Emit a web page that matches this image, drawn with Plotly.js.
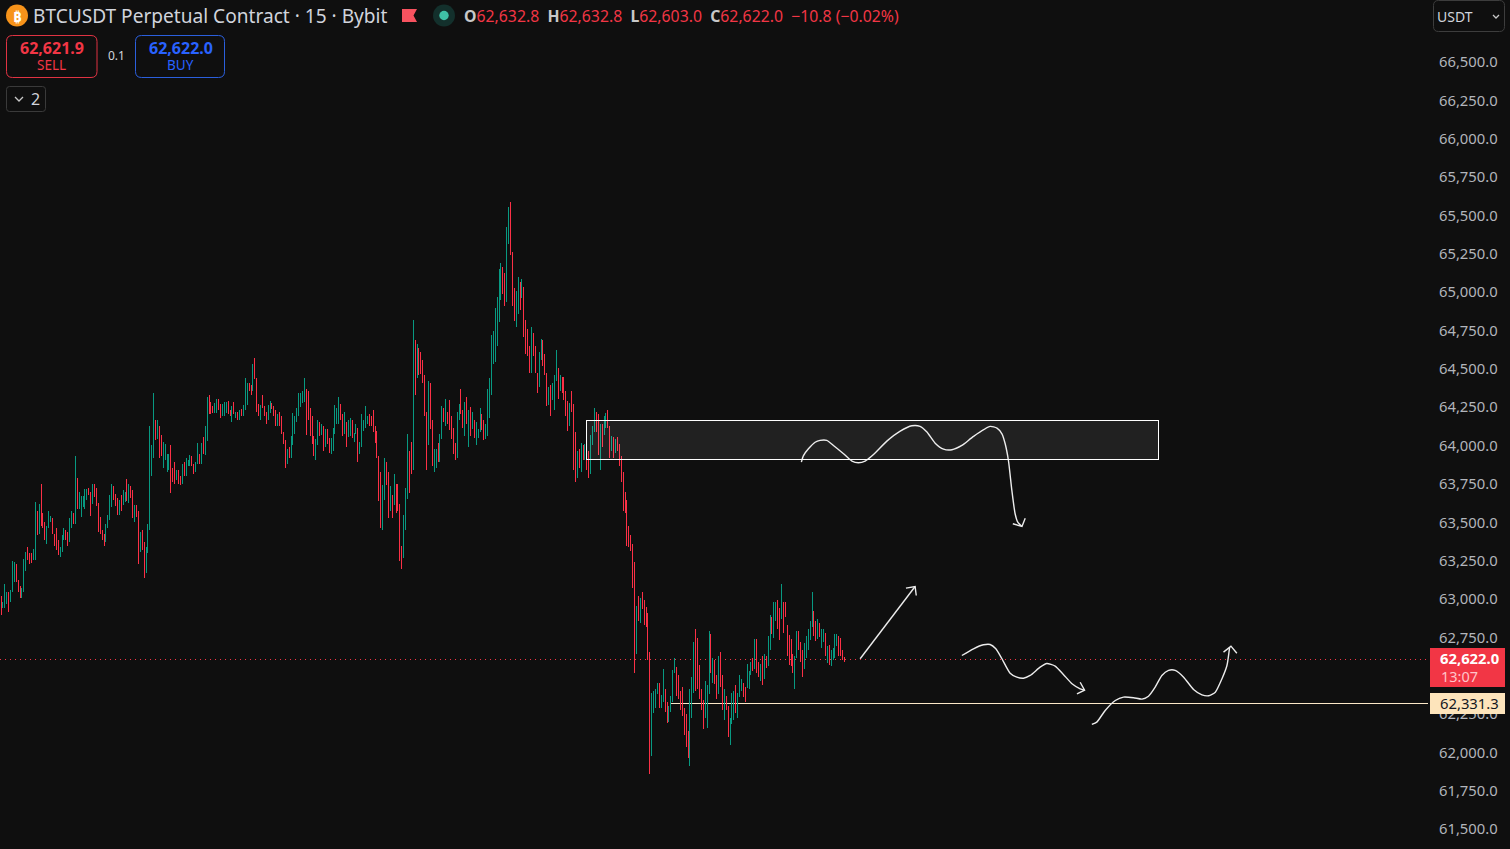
<!DOCTYPE html>
<html><head><meta charset="utf-8">
<script src="https://cdn.plot.ly/plotly-3.0.1.min.js"></script>
<style>html,body{margin:0;padding:0;background:#0f0f0f;overflow:hidden}#c{width:1510px;height:849px}
.boxlayer path{shape-rendering:crispEdges !important}
.shapelayer path[data-index="0"],.shapelayer path[data-index="1"],.shapelayer path[data-index="2"],.shapelayer path[data-index="13"],.shapelayer path[data-index="14"]{shape-rendering:crispEdges !important}
</style>
</head><body><div id="c"></div>
<script>
const highs=[
63036,62997,63108,63056,63056,63069,63258,63252,63239,63134,
63101,63082,63271,63317,63349,63310,63310,63336,63643,63584,
63630,63766,63577,63512,63492,63590,63557,63544,63440,63479,
63395,63349,63428,63479,63460,63447,63538,63584,63577,63948,
63805,63708,63682,63682,63728,63728,63734,63708,63760,63766,
63734,63636,63551,63460,63440,63505,63564,63688,63760,63747,
63695,63669,63656,63688,63721,63708,63793,63760,63747,63721,
63623,63623,63590,63447,63460,63388,63349,63499,64144,64014,
64359,64183,64177,64138,64079,64034,64021,63961,63961,64014,
63864,63903,63857,63857,63812,63896,63909,63935,63922,63955,
63948,63890,63909,64027,63961,64027,64066,64138,64327,64340,
64294,64268,64288,64314,64314,64281,64281,64294,64294,64301,
64242,64268,64294,64229,64229,64242,64249,64275,64451,64424,
64418,64405,64542,64587,64451,64281,64275,64340,64268,64235,
64275,64301,64288,64268,64242,64216,64229,64203,64099,64047,
63994,64001,64073,64223,64203,64255,64353,64353,64372,64451,
64379,64372,64255,64203,64073,64053,64183,64164,64157,64138,
64118,64118,64060,64060,64125,64275,64255,64327,64281,64216,
64229,64164,64183,64196,64177,64092,64157,64125,64034,64216,
64183,64268,64209,64216,64203,64242,64144,64105,63948,63844,
63754,63935,63903,63838,63747,63688,63831,63766,63766,63630,
63356,63564,63734,64086,63975,64034,64829,64698,64672,64652,
64620,64568,64470,64229,64437,64418,64183,63988,63994,64027,
64086,64268,64255,64314,64235,64307,64209,64125,64027,64229,
64281,64385,64242,64294,64327,64242,64262,64235,64177,64164,
64118,64255,64216,64183,64151,64379,64451,64737,64757,64913,
64979,65161,65200,65180,65135,65435,65571,65598,65278,65037,
65018,65109,65076,65096,65044,64829,64770,64659,64783,64744,
64665,64489,64626,64705,64698,64607,64489,64392,64405,64424,
64470,64633,64516,64470,64457,64457,64372,64301,64288,64372,
64281,64099,63975,63994,64027,64014,64021,64001,63975,64079,
64138,64255,64235,64216,64151,64157,64203,64223,64242,64138,
64073,64066,64053,64066,64021,63948,63838,63708,63656,63492,
63428,63375,63252,62965,63030,63023,63062,63010,62958,62919,
62671,62398,62417,62430,62469,62469,62385,62554,62430,62345,
62319,62378,62548,62626,62567,62521,62417,62443,62306,62261,
62150,62430,62508,62730,62821,62756,62580,62424,62352,62476,
62456,62802,62782,62632,62613,62521,62639,62665,62521,62424,
62378,62319,62241,62398,62417,62450,62404,62515,62489,62463,
62443,62587,62541,62606,62632,62750,62750,62600,62587,62639,
62658,62645,62769,62906,62893,62997,62991,63004,62952,63114,
62997,62991,62847,62776,62750,62658,62639,62802,62802,62730,
62678,62724,62769,62821,62867,63062,62932,62873,62886,62854,
62821,62821,62789,62704,62711,62678,62691,62782,62782,62769,
62756,62678,62632.8];
const lows=[
62906,62952,62952,62984,62926,62997,63062,63121,63121,63056,
63017,63023,63062,63199,63265,63239,63245,63265,63265,63428,
63434,63492,63479,63395,63369,63479,63512,63434,63356,63330,
63297,63284,63317,63395,63401,63362,63388,63479,63505,63505,
63597,63603,63551,63610,63603,63656,63688,63557,63630,63675,
63617,63447,63434,63395,63362,63388,63479,63525,63610,63656,
63617,63564,63564,63584,63623,63643,63649,63636,63669,63538,
63512,63551,63239,63317,63330,63153,63180,63310,63466,63812,
63935,64047,64053,63935,63948,63870,63922,63838,63857,63701,
63773,63760,63786,63760,63754,63760,63818,63812,63883,63883,
63877,63825,63844,63890,63890,63890,63961,63955,64040,64216,
64216,64223,64223,64223,64242,64196,64203,64203,64223,64216,
64203,64170,64216,64196,64183,64183,64203,64203,64242,64275,
64372,64346,64372,64444,64235,64203,64177,64255,64203,64157,
64183,64223,64249,64209,64138,64138,64144,64086,64021,63870,
63896,63929,63929,64014,64086,64170,64209,64262,64288,64294,
64079,64183,64073,64021,63948,63916,64014,64073,64079,63975,
64001,64021,63968,63961,63975,64086,64157,64157,64183,64073,
64086,64001,64066,64073,64060,64034,64086,63909,63961,64001,
64105,64125,64157,64144,64144,64099,64027,63929,63649,63473,
63466,63656,63754,63538,63590,63538,63623,63577,63590,63258,
63212,63278,63466,63662,63701,63825,63857,64340,64451,64470,
64477,64424,64209,63857,64014,64118,63883,63838,63864,63909,
63909,64053,64170,64144,64151,64112,64053,63961,63916,63929,
64177,64216,64131,64073,64157,64007,64073,64118,64060,64014,
64060,64099,64112,64047,64053,64073,64196,64340,64542,64561,
64665,64816,64965,65004,64920,64952,65330,65252,64920,64822,
64789,64868,64894,64978,64718,64613,64600,64483,64483,64594,
64483,64353,64392,64574,64535,64470,64268,64275,64203,64307,
64242,64437,64314,64372,64359,64307,64209,64105,64138,64229,
63851,63773,63799,63864,63844,63922,63916,63857,63799,63825,
64014,64099,64099,63955,63857,64001,64079,64125,64131,63935,
63981,63935,63968,63975,63877,63779,63584,63577,63362,63349,
63323,63088,62528,62658,62873,62854,62945,62841,62834,62613,
61876,61987,62268,62306,62391,62300,62306,62339,62274,62203,
62209,62274,62339,62528,62378,62359,62287,62254,62124,62046,
61980,61922,62241,62398,62417,62424,62359,62287,62163,62241,
62170,62391,62534,62469,62462,62359,62391,62443,62287,62228,
62287,62111,62065,62196,62228,62268,62241,62372,62417,62372,
62339,62436,62430,62515,62541,62554,62528,62502,62482,62456,
62489,62561,62574,62684,62782,62756,62867,62821,62743,62880,
62789,62899,62639,62580,62574,62528,62424,62632,62678,62600,
62502,62554,62626,62678,62743,62828,62769,62737,62750,62763,
62691,62730,62639,62594,62580,62574,62613,62632,62704,62645,
62645,62613,62603];
// one letter per candle: G closed up, R closed down
const direction=(
"RGGGRGGGRR"+"RGGGRRRGGR"+"GRRRGGGRRR"+"RGGGRRGGRG"+"RGGGGGRRGR"+
"RRRRRGGGGR"+"RRGRGGRGRR"+"GRRGRRGGGG"+"GRGRRGGGGR"+"RRGRRGRGGG"+
"RRGGRGRGGR"+"RRGGRRGGGR"+"RGRGRGRGGG"+"RRGRRRGRRR"+"GGRRRGRRRR"+
"GRGGGGGGGG"+"RRRRRGGRGR"+"GRRGGGGGRR"+"GRGGRGGRGG"+"GGGRRRRRRR"+
"GGRRGRGRRR"+"RGGGRRGRGR"+"RRRRGRRGGR"+"GGRGRRRRRG"+"GRRGRGRGRG"+
"GGRRGGGGGG"+"GGGRRGGRRR"+"GGRGRRRRGR"+"RRGGRRRGRG"+"GGRGRRRRGR"+
"RRGRGRGRRG"+"GGRRGRGGRR"+"GRGRRRRRRR"+"RRRGRGRRRR"+"RGGGGRGGRR"+
"GGGGRRRRRR"+"RGGGRRRRRG"+"GGRGRRGRRG"+"RRGGGRGGGR"+"RGGGRGRRGR"+
"GRGGRGGRRG"+"RRRRRRGGRR"+"RGGGGGRRGR"+"GGRGRGGGGR"+"RRR").split("");

const priceTicks=[66500,66250,66000,65750,65500,65250,65000,64750,64500,64250,64000,63750,63500,63250,63000,62750,62500,62250,62000,61750,61500];
const lastPrice=62622.0, levelPrice=62331.3;
const zoneBars=[306.6,606.4], zonePrices=[63922,64176];
const levelBars=[350.6,748.0];

// freehand drawings, x in bar numbers, y in prices
const curveABars=[419.4,420.5,423.1,426.6,429.2,432.7,436.2,441.5,445.9,449.3,452.8,457.2,464.2,471.2,477.3,481.6,485.2,489.5,493.9,498.3,503.5,509.6,518.3,521.9,524.5,526.2,527.9,529.7,531.4,532.8,535];
const curveAPrices=[63905,63948,63992,64035,64047,64047,64014,63960,63912,63901,63912,63955,64042,64107,64142,64138,64101,64029,63990,63986,64014,64073,64138,64127,64090,64025,63916,63721,63569,63514,63486];
const headABars=[530.2,535,536.7], headAPrices=[63504,63486,63540];
const arrowBBars=[450.2,479.0], arrowBPrices=[62624,63095];
const headBBars=[474.2,479.0,479.6], headBPrices=[63084,63095,63036];
const curveCBars=[503.5,509.6,514.8,518.3,521.3,524.5,528.8,532.3,535.8,539.3,544.5,548,552.4,556.8,561.2,565.5,567.8];
const curveCPrices=[62645,62689,62715,62717,62689,62624,62530,62504,62497,62515,62569,62593,62576,62520,62461,62428,62419];
const headCBars=[565.5,567.8,563.8], headCPrices=[62471,62419,62395];
const curveDBars=[571.6,574.2,578.6,583.9,588.2,593.5,597.9,601.3,604.8,608.3,611.8,615.3,619.7,624.9,629.3,632.8,636.3,639.8,642.4,643.8];
const curveDPrices=[62196,62211,62287,62352,62374,62370,62361,62380,62439,62515,62548,62548,62504,62424,62389,62383,62406,62494,62580,62700];
const headDBars=[640.6,644.5,647.6], headDPrices=[62667,62706,62660];

const W=1428,H=849;
const px=x=>x/W, py=y=>1-y/H;
const fmt=v=>v.toLocaleString('en-US',{minimumFractionDigits:1,maximumFractionDigits:1});
const bars=highs.map((_,i)=>i);
const opens=direction.map((d,i)=>d==='G'?lows[i]:highs[i]);
const closes=direction.map((d,i)=>d==='G'?highs[i]:lows[i]);
const UP='#089981',DOWN='#fb3046',BG='#0f0f0f',TXT='#b2b5bb';

const pen=(x,y)=>({type:'scatter',mode:'lines',x,y,hoverinfo:'skip',showlegend:false,
  line:{color:'#ececec',width:1.4,shape:'spline',smoothing:0.6}});
const straight=(x,y)=>({type:'scatter',mode:'lines',x,y,hoverinfo:'skip',showlegend:false,line:{color:'#ececec',width:1.4}});

const traces=[
 {type:'candlestick',x:bars,open:opens,high:highs,low:lows,close:closes,hoverinfo:'skip',showlegend:false,
  whiskerwidth:0,
  increasing:{line:{color:UP,width:1},fillcolor:UP},
  decreasing:{line:{color:DOWN,width:1},fillcolor:DOWN}},
 pen(curveABars,curveAPrices),straight(headABars,headAPrices),
 straight(arrowBBars,arrowBPrices),straight(headBBars,headBPrices),
 pen(curveCBars,curveCPrices),straight(headCBars,headCPrices),
 pen(curveDBars,curveDPrices),straight(headDBars,headDPrices)
];

function rrect(x0,y0,x1,y1,r,line,fill){
  const X=px,Y=py;
  const path=`M ${X(x0+r)} ${Y(y0)} L ${X(x1-r)} ${Y(y0)} Q ${X(x1)} ${Y(y0)} ${X(x1)} ${Y(y0+r)} L ${X(x1)} ${Y(y1-r)} Q ${X(x1)} ${Y(y1)} ${X(x1-r)} ${Y(y1)} L ${X(x0+r)} ${Y(y1)} Q ${X(x0)} ${Y(y1)} ${X(x0)} ${Y(y1-r)} L ${X(x0)} ${Y(y0+r)} Q ${X(x0)} ${Y(y0)} ${X(x0+r)} ${Y(y0)} Z`;
  return {type:'path',xref:'paper',yref:'paper',path,line:{color:line,width:1},fillcolor:fill||'rgba(0,0,0,0)'};
}
const circ=(cx,cy,r,c)=>({type:'circle',xref:'paper',yref:'paper',x0:px(cx-r),x1:px(cx+r),y0:py(cy+r),y1:py(cy-r),fillcolor:c,line:{width:0}});
const poly=(pts,c,fill)=>({type:'path',xref:'paper',yref:'paper',
  path:'M '+pts.map(p=>px(p[0])+' '+py(p[1])).join(' L ')+(fill?' Z':''),
  fillcolor:fill?c:'rgba(0,0,0,0)',line:{color:c,width:fill?0:1.3}});

const shapes=[
 {type:'line',xref:'paper',x0:0,x1:1,yref:'y',y0:lastPrice,y1:lastPrice,line:{color:'#f23645',width:1,dash:'1px,4px'}},
 {type:'rect',xref:'x',yref:'y',x0:zoneBars[0],x1:zoneBars[1],y0:zonePrices[0],y1:zonePrices[1],line:{color:'#ffffff',width:1},fillcolor:'rgba(255,255,255,0.08)'},
 {type:'line',layer:'below',xref:'x',yref:'y',x0:levelBars[0],x1:levelBars[1],y0:levelPrice,y1:levelPrice,line:{color:'#fce8c8',width:1}},
 circ(17,15.5,11,'#f7931a'),
 poly([[402,9],[417,9],[413.5,15.5],[417,22],[402,22]],'#f7525f',true),
 circ(444,15.5,11,'#13302c'),circ(444,15.5,4.7,'#3fc1a7'),
 rrect(6.5,35.5,97,77.5,6,'#e03343'),
 rrect(135.5,35.5,224.5,77.5,6,'#2b5fdc'),
 rrect(6.5,86.5,45.5,111.5,3,'#3a3a3a'),
 poly([[15,97],[19,101],[23,97]],'#c8c8c8',false),
 rrect(1433.5,0.5,1504.5,31.5,5,'#3d3d3d'),
 poly([[1493,15],[1496,18],[1499,15]],'#c8c8c8',false),
 {type:'rect',xref:'paper',yref:'paper',x0:px(1430),x1:px(1505),y0:py(687),y1:py(648),fillcolor:'#f23645',line:{width:0}},
 {type:'rect',xref:'paper',yref:'paper',x0:px(1430),x1:px(1505),y0:py(714),y1:py(693),fillcolor:'#fde4bb',line:{width:0}}
];
const FONT='"Noto Sans",sans-serif';
const note=(x,y,text,size,color,anchor)=>({xref:'paper',yref:'paper',x:px(x),y:py(y),text,showarrow:false,
  xanchor:anchor||'left',yanchor:'middle',align:anchor||'left',font:{family:FONT,size,color},borderpad:0,borderwidth:0});
const r=t=>`<span style="color:#f23645">${t}</span>`;
const annotations=[
 note(17,15.5,'<b>₿</b>',15,'#ffffff','center'),
 note(33,15.5,'BTCUSDT Perpetual Contract · 15 · Bybit',19.1,'#d1d4dc'),
 note(464,15.5,`<b>O</b>${r('62,632.8')}  <b>H</b>${r('62,632.8')}  <b>L</b>${r('62,603.0')}  <b>C</b>${r('62,622.0')}  ${r('−10.8 (−0.02%)')}`,15.8,'#c8c8c8'),
 note(52,48,'<b>62,621.9</b>',16,'#f23645','center'),
 note(51.5,65,'SELL',13.5,'#f23645','center'),
 note(116,55.5,'0.1',12,'#d1d4dc','center'),
 note(180.5,48,'<b>62,622.0</b>',16,'#2962ff','center'),
 note(180,65,'BUY',13.5,'#2962ff','center'),
 note(35,98.5,'2',16,'#d1d4dc','center'),
 note(1437,16,'USDT',14,'#d1d4dc'),
 note(1440,658,'<b>'+fmt(lastPrice)+'</b>',14.8,'#ffffff'),
 note(1441,676,'13:07',14.5,'#ffc4c9'),
 note(1440,702.5,fmt(levelPrice),14.8,'#131722')
];
const s=843.5/(bars.length-1);
const layout={
 width:1510,height:849,margin:{l:0,r:82,t:0,b:0,pad:0},
 paper_bgcolor:BG,plot_bgcolor:BG,showlegend:false,boxgap:1,
 xaxis:{range:[-1/s,(W-1)/s],visible:false,rangeslider:{visible:false},fixedrange:true},
 yaxis:{side:'right',range:[66917-6.517*H,66917],tickmode:'array',tickvals:priceTicks,ticktext:priceTicks.map(fmt),
   ticks:'outside',ticklen:7,tickcolor:'rgba(0,0,0,0)',showgrid:false,zeroline:false,showline:false,fixedrange:true,
   ticklabelshift:-2,tickfont:{family:FONT,size:14.8,color:TXT}},
 shapes,annotations
};
Plotly.newPlot('c',traces,layout,{displayModeBar:false,staticPlot:true});
</script></body></html>
